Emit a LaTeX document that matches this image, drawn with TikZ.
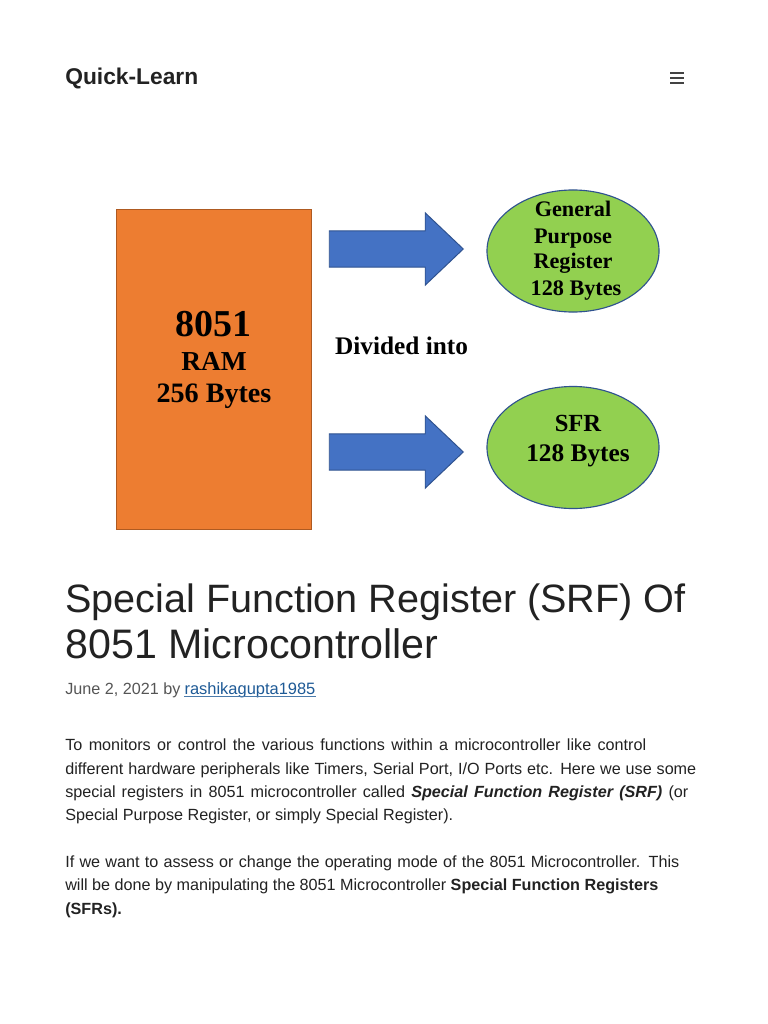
\documentclass[tikz,border=0pt]{standalone}
\usepackage{fontspec}
\setmainfont{Liberation Sans}
\newfontfamily\figfont{Liberation Serif}
\usepackage{xcolor}
\usetikzlibrary{shapes.geometric, shapes.arrows}
\definecolor{ramorange}{HTML}{ED7D31}
\definecolor{ramedge}{HTML}{AE5A21}
\definecolor{arrowblue}{HTML}{4472C4}
\definecolor{shapeedge}{HTML}{2F528F}
\definecolor{regreen}{HTML}{92D050}
\definecolor{pagetext}{HTML}{222222}
\definecolor{metagray}{HTML}{555555}
\definecolor{linkblue}{HTML}{1E5A96}
% one line of the page, set to a width given in reference pixels
\newcommand{\fitline}[2]{\hbox to #1\dimexpr0.025cm\relax{#2}}

\begin{document}
\begin{tikzpicture}[
    x=0.025cm, y=-0.025cm,
    % Styles
    rambox/.style={rectangle, draw=ramedge, fill=ramorange, minimum width=4.86cm, minimum height=7.98cm, inner sep=0pt, line width=0.7pt},
    bigarrow/.style={single arrow, draw=shapeedge, fill=arrowblue, anchor=tip, minimum height=3.35cm, minimum width=1.8cm, single arrow head extend=0.45cm, single arrow tip angle=87, inner xsep=0pt, inner ysep=0.44cm, line width=0.7pt},
    regoval/.style={ellipse, draw=shapeedge, fill=regreen, minimum width=4.3cm, minimum height=3.05cm, inner sep=0pt, line width=0.8pt},
    figlabel/.style={font=\figfont\bfseries\fontsize{#1}{#1}\selectfont, text=black, inner sep=0pt, anchor=base},
    pageline/.style={font=\fontsize{11.5}{13}\selectfont, text=pagetext, inner sep=0pt, anchor=base west},
    titleline/.style={font=\fontsize{#1}{30}\selectfont, text=pagetext, inner sep=0pt, anchor=base west},
]
\useasboundingbox (0,0) rectangle (768,1024);
\fill[white] (0,0) rectangle (768,1024);

% === HEADER ===
\node[font=\bfseries\fontsize{16.2}{18}\selectfont, text=pagetext, inner sep=0pt, anchor=base west] (site) at (65,85) {Quick-Learn};
\foreach \y in {73,78,83}
    \draw[pagetext!85, line width=0.9pt] (670,\y) -- (684,\y);

% === FIGURE ===
\node[rambox] (ram) at (214,369.5) {};
\node[regoval] (gpr) at (573,251) {};
\node[regoval] (sfr) at (573,447.5) {};
\node[bigarrow] (arrowa) at (464,249) {};
\node[bigarrow] (arrowb) at (464,452) {};

\node[figlabel=27] (ramnum) at (213.5,336) {8051};
\node[figlabel=19.5] (ramname) at (214,370) {RAM};
\node[figlabel=20] (ramsize) at (214,402) {256 Bytes};
\node[figlabel=18] (divided) at (401.5,354) {Divided into};

\node[figlabel=15.8] (gpra) at (573,217) {General};
\node[figlabel=15.8] (gprb) at (573,243) {Purpose};
\node[figlabel=15.8] (gprc) at (573,269) {Register};
\node[figlabel=15.8] (gprd) at (576,295) {128 Bytes};
\node[figlabel=17.5] (sfra) at (578,431) {SFR};
\node[figlabel=18] (sfrb) at (578,461) {128 Bytes};

% === TITLE ===
\node[titleline=28.15] (titlea) at (65,612) {Special Function Register (SRF) Of};
\node[titleline=29.3] (titleb) at (65,658) {8051 Microcontroller};
\node[pageline, text=metagray] (meta) at (65,694) {June 2, 2021 by};
\node[pageline, text=linkblue, font=\fontsize{11.7}{13}\selectfont] (link) at ([xshift=2.6pt]meta.base east) {rashikagupta1985};
\draw[linkblue!80, line width=0.5pt] ([yshift=-1.9pt]link.base west) -- ([yshift=-1.9pt]link.base east);

% === BODY ===
\node[pageline] (para) at (65,750) {\fitline{581}{To monitors or control the various functions within a microcontroller like control}};
\node[pageline] (parb) at (65,774) {\fitline{631}{different hardware peripherals like Timers, Serial Port, I/O Ports etc. Here we use some}};
\node[pageline] (parc) at (65,797) {\fitline{623}{special registers in 8051 microcontroller called \textbf{\textit{Special Function Register (SRF)}} (or}};
\node[pageline] (pard) at (65,820) {\fitline{388}{Special Purpose Register, or simply Special Register).}};
\node[pageline] (pare) at (65,867) {\fitline{614}{If we want to assess or change the operating mode of the 8051 Microcontroller. This}};
\node[pageline] (parf) at (65,890) {\fitline{593}{will be done by manipulating the 8051 Microcontroller \textbf{Special Function Registers}}};
\node[pageline] (parg) at (65,914) {\textbf{(SFRs).}};
\end{tikzpicture}
\end{document}
